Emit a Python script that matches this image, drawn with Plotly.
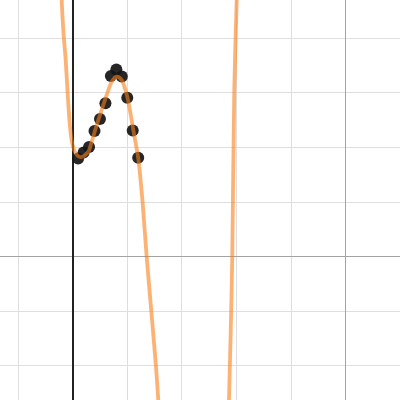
import plotly.graph_objects as go

# data points (grid units)
pts_x = [0.1, 0.2, 0.3, 0.4, 0.5, 0.6, 0.7, 0.8, 0.9, 1.0, 1.1, 1.2]
pts_y = [6.80, 6.91, 7.01, 7.30, 7.52, 7.81, 8.31, 8.43, 8.30, 7.91, 7.31, 6.81]

# fitted curve (left branch)
curve_x = [-0.205, -0.201, -0.172, -0.128, -0.092, -0.049, -0.013, 0.033, 0.097,
           0.165, 0.286, 0.348, 0.440, 0.531, 0.623, 0.714, 0.806, 0.897,
           1.000, 1.110, 1.201, 1.282, 1.355, 1.440, 1.526, 1.568, 1.586]
curve_y = [9.885, 9.701, 9.152, 8.603, 7.993, 7.381, 7.101, 6.936, 6.844,
           6.826, 6.923, 7.106, 7.412, 7.687, 7.962, 8.205, 8.297, 8.236,
           7.930, 7.321, 6.802, 5.978, 5.0, 4.005, 2.985, 2.375, 2.10]

# right branch coming back up
curve2_x = [2.859, 2.863, 2.894, 2.923, 2.960, 3.004, 3.009]
curve2_y = [2.10, 2.375, 3.603, 5.0, 8.053, 9.701, 9.885]

fig = go.Figure()
fig.add_trace(go.Scatter(x=pts_x, y=pts_y, mode="markers",
                         marker=dict(size=12, color="rgba(20,20,20,0.92)"),
                         showlegend=False, hoverinfo="skip"))
for cx, cy in [(curve_x, curve_y), (curve2_x, curve2_y)]:
    fig.add_trace(go.Scatter(x=cx, y=cy, mode="lines",
                             line=dict(color="rgba(250,126,25,0.6)", width=3.8,
                                       shape="spline", smoothing=0.8),
                             showlegend=False, hoverinfo="skip"))

axis_style = dict(showticklabels=False, ticks="", showline=False,
                  tick0=0, dtick=5, gridcolor="#a3a3a3", gridwidth=1.3,
                  minor=dict(dtick=1, tick0=0, gridcolor="#dedede", gridwidth=1.3, showgrid=True),
                  zeroline=True, zerolinecolor="#222222", zerolinewidth=1.6)

fig.update_xaxes(range=[-1.331, 5.995], **axis_style)
fig.update_yaxes(range=[2.375, 9.701], **axis_style)

fig.update_layout(width=400, height=400, margin=dict(l=0, r=0, t=0, b=0),
                  plot_bgcolor="white", paper_bgcolor="white")

fig.write_html("out.html", config={"displayModeBar": False},
               post_script="document.body.style.margin='0';document.body.style.overflow='hidden';")
